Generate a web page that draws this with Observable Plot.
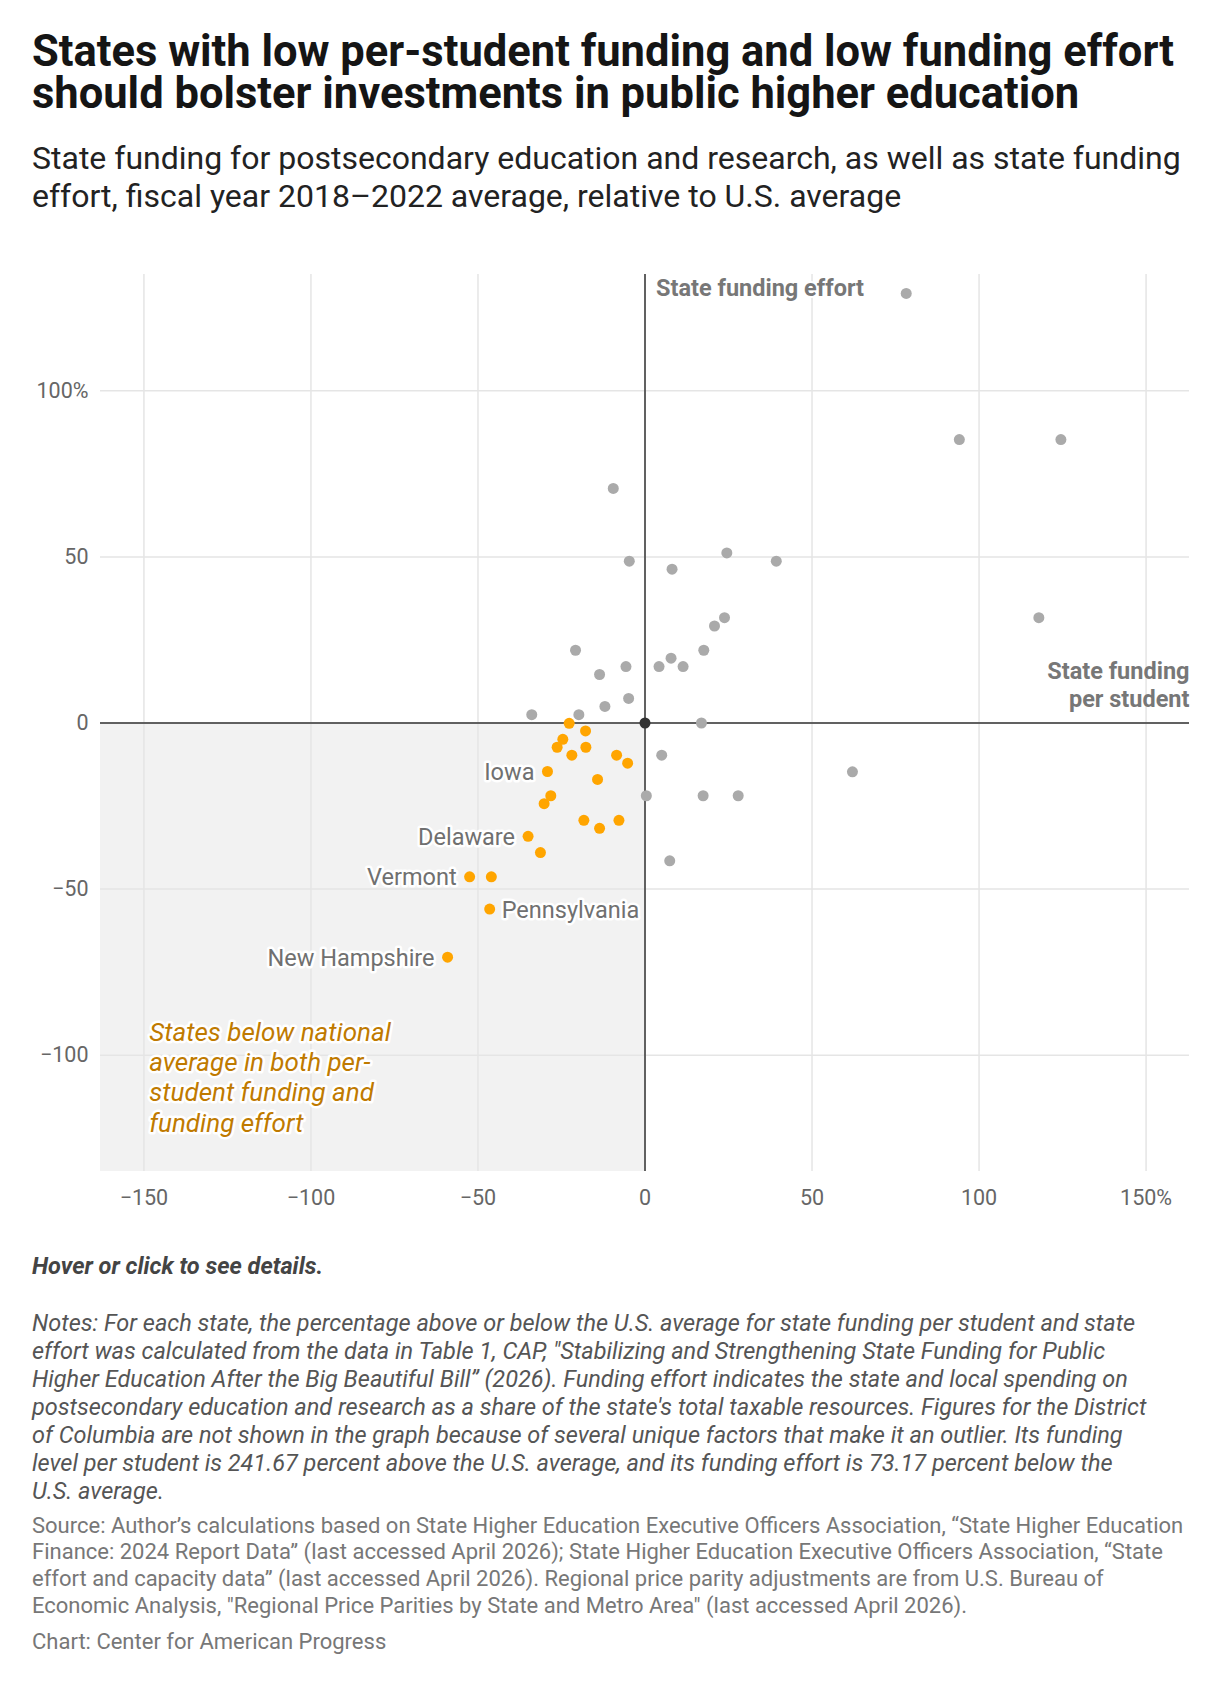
<!DOCTYPE html>
<html>
<head>
<meta charset="utf-8">
<script src="https://cdn.jsdelivr.net/npm/d3@7"></script>
<script src="https://cdn.jsdelivr.net/npm/@observablehq/plot@0.6"></script>
<style>
  html, body { margin: 0; padding: 0; background: #fff; }
  body { width: 1220px; height: 1684px; position: relative; font-family: Roboto, "Noto Sans", sans-serif; color: #1a1a1a; overflow: hidden; }
  .blk { position: absolute; left: 32px; white-space: nowrap; }
  .title { font-size: 43.5px; line-height: 42px; font-weight: 700; color: #151515; }
  #title1 { top: 30.8px; }
  #title2 { top: 73.2px; }
  #subtitle { top: 139px; font-size: 32px; line-height: 38.3px; color: #222; }
  #chart { position: absolute; top: 250px; left: 0; }
  #hover { top: 1252px; font-size: 23.5px; line-height: 28px; font-weight: 700; font-style: italic; color: #444; }
  #notes { top: 1308.5px; font-size: 23.5px; line-height: 28.1px; font-style: italic; color: #555; }
  #source { top: 1512.5px; font-size: 22px; line-height: 26.8px; color: #777; }
  #credit { top: 1629px; font-size: 22px; line-height: 26.8px; color: #777; }
</style>
</head>
<body>
<div id="title1" class="blk title">States with low per-student funding and low funding effort</div>
<div id="title2" class="blk title">should bolster investments in public higher education</div>
<div id="subtitle" class="blk">State funding for postsecondary education and research, as well as state funding<br>effort, fiscal year 2018–2022 average, relative to U.S. average</div>
<div id="chart"></div>
<div id="hover" class="blk">Hover or click to see details.</div>
<div id="notes" class="blk">Notes: For each state, the percentage above or below the U.S. average for state funding per student and state<br>effort was calculated from the data in Table 1, CAP, "Stabilizing and Strengthening State Funding for Public<br>Higher Education After the Big Beautiful Bill” (2026). Funding effort indicates the state and local spending on<br>postsecondary education and research as a share of the state's total taxable resources. Figures for the District<br>of Columbia are not shown in the graph because of several unique factors that make it an outlier. Its funding<br>level per student is 241.67 percent above the U.S. average, and its funding effort is 73.17 percent below the<br>U.S. average.</div>
<div id="source" class="blk">Source: Author’s calculations based on State Higher Education Executive Officers Association, “State Higher Education<br>Finance: 2024 Report Data” (last accessed April 2026); State Higher Education Executive Officers Association, “State<br>effort and capacity data” (last accessed April 2026). Regional price parity adjustments are from U.S. Bureau of<br>Economic Analysis, "Regional Price Parities by State and Metro Area" (last accessed April 2026).</div>
<div id="credit" class="blk">Chart: Center for American Progress</div>
<script>
// State funding per student, % relative to U.S. average (x)
const perStudent = [
  78.2, 94.1, 124.5, -9.5, -4.7, 8.1, 24.5, 39.3, 117.9, 23.8,
  20.8, -20.8, 17.6, 7.8, -5.7, 4.2, 11.4, -13.6, -4.9, -12.0,
  -33.9, -19.8, 16.9, 5.0, 62.1, 0.4, 17.4, 27.9, 7.4,
  -22.7, -17.8, -24.6, -26.3, -17.7, -21.9, -8.5, -5.2, -29.2, -14.2,
  -28.2, -30.2, -18.3, -7.8, -13.6, -35.0, -31.3, -52.5, -46.0, -46.5,
  -59.1
];
// State funding effort, % relative to U.S. average (y)
const effort = [
  129.3, 85.3, 85.3, 70.6, 48.7, 46.3, 51.2, 48.7, 31.7, 31.7,
  29.2, 21.9, 21.9, 19.5, 17.0, 17.0, 17.0, 14.6, 7.4, 5.0,
  2.5, 2.5, 0.0, -9.7, -14.7, -21.9, -21.9, -21.9, -41.5,
  -0.1, -2.4, -4.9, -7.3, -7.3, -9.7, -9.7, -12.1, -14.6, -17.0,
  -21.9, -24.3, -29.3, -29.3, -31.7, -34.1, -39.0, -46.3, -46.3, -56.0,
  -70.5
];
// Labelled states ("" = unlabelled)
const stateLabel = [
  "", "", "", "", "", "", "", "", "", "",
  "", "", "", "", "", "", "", "", "", "",
  "", "", "", "", "", "", "", "", "",
  "", "", "", "", "", "", "", "", "Iowa", "",
  "", "", "", "", "", "Delaware", "", "Vermont", "", "Pennsylvania",
  "New Hampshire"
];
const labelSide = { "Iowa": "left", "Delaware": "left", "Vermont": "left", "Pennsylvania": "right", "New Hampshire": "left" };
const usAverage = [{ x: 0, y: 0 }];
const xTicks = [-150, -100, -50, 0, 50, 100, 150];
const yTicks = [-100, -50, 0, 50, 100];
const xDomain = [-163, 163];
const yDomain = [-135, 135];

const data = perStudent.map((x, i) => ({
  x, y: effort[i], label: stateLabel[i],
  below: x < 0 && effort[i] < 0
}));

const fmt = (v, top) => (v < 0 ? "\u2212" + Math.abs(v) : String(v)) + (v === top ? "%" : "");

const chart = Plot.plot({
  width: 1220,
  height: 980,
  marginTop: 24,
  marginBottom: 59,
  marginLeft: 100,
  marginRight: 31,
  style: { fontFamily: "Roboto, sans-serif", fontSize: "21.5px", color: "#666", background: "transparent" },
  x: { domain: xDomain, ticks: xTicks, tickSize: 0, tickPadding: 18, tickFormat: d => fmt(d, 150), label: null },
  y: { domain: yDomain, ticks: yTicks, tickSize: 0, tickPadding: 12, tickFormat: d => fmt(d, 100), label: null },
  marks: [
    Plot.rect([{ x1: xDomain[0], x2: 0, y1: yDomain[0], y2: 0 }], { x1: "x1", x2: "x2", y1: "y1", y2: "y2", fill: "#f2f2f2" }),
    Plot.gridX(xTicks, { stroke: "#e5e5e5", strokeOpacity: 1, strokeWidth: 1.5 }),
    Plot.gridY(yTicks, { stroke: "#e5e5e5", strokeOpacity: 1, strokeWidth: 1.5 }),
    Plot.ruleX([0], { stroke: "#333", strokeWidth: 1.5 }),
    Plot.ruleY([0], { stroke: "#333", strokeWidth: 1.5 }),
    Plot.dot(data, { x: "x", y: "y", r: 5.5, fill: d => d.below ? "#ffa500" : "#aaaaaa", stroke: "none" }),
    Plot.dot(usAverage, { x: "x", y: "y", r: 5.5, fill: "#333" }),
    Plot.text(data.filter(d => d.label && labelSide[d.label] === "left"), {
      x: "x", y: "y", text: "label", textAnchor: "end", dx: -13, dy: 1,
      fill: "#707070", stroke: "white", strokeWidth: 5, fontSize: 23.5
    }),
    Plot.text(data.filter(d => d.label && labelSide[d.label] === "right"), {
      x: "x", y: "y", text: "label", textAnchor: "start", dx: 12, dy: 1,
      fill: "#707070", stroke: "white", strokeWidth: 5, fontSize: 23.5
    }),
    Plot.text(["State funding effort"], {
      x: () => 0, frameAnchor: "top", textAnchor: "start", lineAnchor: "top", dx: 11, dy: 5,
      fill: "#777", fontWeight: 700, fontSize: 23.5, stroke: "white", strokeWidth: 4
    }),
    Plot.text(["State funding\nper student"], {
      y: () => 0, frameAnchor: "right", textAnchor: "end", lineAnchor: "bottom", dy: -16, lineHeight: 1.19,
      fill: "#777", fontWeight: 700, fontSize: 23.5
    }),
    Plot.text(["States below national\naverage in both per-\nstudent funding and\nfunding effort"], {
      x: () => -148.4, y: () => -89.1, textAnchor: "start", lineAnchor: "top", lineHeight: 1.17,
      fill: "#bf7a00", fontStyle: "italic", fontSize: 26, stroke: "white", strokeWidth: 5
    })
  ]
});
document.getElementById("chart").appendChild(chart);
</script>
</body>
</html>
